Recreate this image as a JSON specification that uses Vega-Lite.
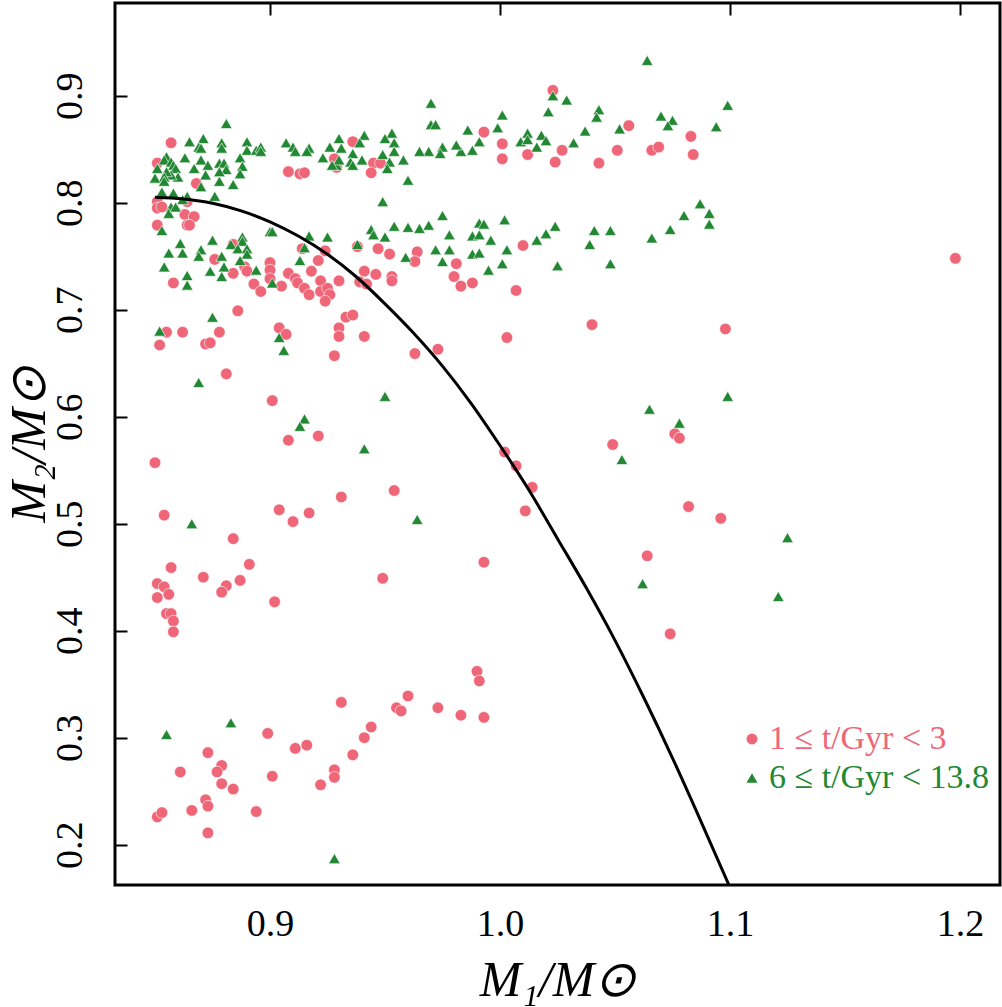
{
  "$schema": "https://vega.github.io/schema/vega-lite/v6.json",
  "autosize": {"type": "none"},
  "width": 885,
  "height": 882,
  "padding": {"left": 115, "top": 3, "right": 2, "bottom": 122},
  "background": "white",
  "config": {
    "view": {"stroke": "black", "strokeWidth": 3},
    "axis": {
      "domain": false,
      "ticks": false,
      "grid": true,
      "gridColor": "#000000",
      "gridWidth": 2,
      "gridOpacity": 1,
      "gridDash": [12, 3000],
      "labelFont": "Liberation Serif",
      "labelFontSize": 38,
      "labelColor": "black",
      "titleFont": "Liberation Serif",
      "titleFontSize": 50,
      "titleFontWeight": "normal",
      "titleFontStyle": "italic",
      "titleColor": "black"
    }
  },
  "datasets": {
    "pts": [
      {"m1":0.857,"m2":0.856,"grp":"young"},{"m1":0.851,"m2":0.837,"grp":"young"},{"m1":0.868,"m2":0.818,"grp":"young"},
      {"m1":0.851,"m2":0.801,"grp":"young"},{"m1":0.851,"m2":0.795,"grp":"young"},{"m1":0.853,"m2":0.796,"grp":"young"},
      {"m1":0.864,"m2":0.801,"grp":"young"},{"m1":0.863,"m2":0.789,"grp":"young"},{"m1":0.867,"m2":0.787,"grp":"young"},
      {"m1":0.864,"m2":0.779,"grp":"young"},{"m1":0.865,"m2":0.779,"grp":"young"},{"m1":0.851,"m2":0.779,"grp":"young"},
      {"m1":0.908,"m2":0.829,"grp":"young"},{"m1":0.913,"m2":0.827,"grp":"young"},{"m1":0.915,"m2":0.828,"grp":"young"},
      {"m1":0.928,"m2":0.841,"grp":"young"},{"m1":0.929,"m2":0.833,"grp":"young"},{"m1":0.936,"m2":0.857,"grp":"young"},
      {"m1":0.945,"m2":0.837,"grp":"young"},{"m1":0.948,"m2":0.837,"grp":"young"},{"m1":0.944,"m2":0.828,"grp":"young"},
      {"m1":0.993,"m2":0.866,"grp":"young"},{"m1":1.001,"m2":0.855,"grp":"young"},{"m1":1.001,"m2":0.841,"grp":"young"},
      {"m1":1.012,"m2":0.845,"grp":"young"},{"m1":1.023,"m2":0.905,"grp":"young"},{"m1":1.024,"m2":0.838,"grp":"young"},
      {"m1":1.027,"m2":0.849,"grp":"young"},{"m1":1.043,"m2":0.837,"grp":"young"},{"m1":1.051,"m2":0.849,"grp":"young"},
      {"m1":1.056,"m2":0.872,"grp":"young"},{"m1":1.066,"m2":0.849,"grp":"young"},{"m1":1.069,"m2":0.852,"grp":"young"},
      {"m1":1.083,"m2":0.862,"grp":"young"},{"m1":1.084,"m2":0.845,"grp":"young"},{"m1":1.198,"m2":0.748,"grp":"young"},
      {"m1":0.914,"m2":0.757,"grp":"young"},{"m1":0.924,"m2":0.755,"grp":"young"},{"m1":0.938,"m2":0.759,"grp":"young"},
      {"m1":0.947,"m2":0.757,"grp":"young"},{"m1":0.952,"m2":0.752,"grp":"young"},{"m1":0.964,"m2":0.754,"grp":"young"},
      {"m1":0.963,"m2":0.745,"grp":"young"},{"m1":0.981,"m2":0.743,"grp":"young"},{"m1":0.980,"m2":0.731,"grp":"young"},
      {"m1":0.983,"m2":0.722,"grp":"young"},{"m1":0.988,"m2":0.725,"grp":"young"},{"m1":1.007,"m2":0.718,"grp":"young"},
      {"m1":1.010,"m2":0.760,"grp":"young"},{"m1":0.876,"m2":0.747,"grp":"young"},{"m1":0.884,"m2":0.761,"grp":"young"},
      {"m1":0.889,"m2":0.740,"grp":"young"},{"m1":0.890,"m2":0.736,"grp":"young"},{"m1":0.884,"m2":0.734,"grp":"young"},
      {"m1":0.893,"m2":0.724,"grp":"young"},{"m1":0.896,"m2":0.717,"grp":"young"},{"m1":0.900,"m2":0.744,"grp":"young"},
      {"m1":0.900,"m2":0.737,"grp":"young"},{"m1":0.900,"m2":0.729,"grp":"young"},{"m1":0.905,"m2":0.722,"grp":"young"},
      {"m1":0.858,"m2":0.725,"grp":"young"},{"m1":0.908,"m2":0.734,"grp":"young"},{"m1":0.911,"m2":0.729,"grp":"young"},
      {"m1":0.912,"m2":0.725,"grp":"young"},{"m1":0.915,"m2":0.720,"grp":"young"},{"m1":0.917,"m2":0.714,"grp":"young"},
      {"m1":0.918,"m2":0.736,"grp":"young"},{"m1":0.922,"m2":0.727,"grp":"young"},{"m1":0.922,"m2":0.717,"grp":"young"},
      {"m1":0.925,"m2":0.720,"grp":"young"},{"m1":0.926,"m2":0.714,"grp":"young"},{"m1":0.924,"m2":0.708,"grp":"young"},
      {"m1":0.921,"m2":0.746,"grp":"young"},{"m1":0.930,"m2":0.727,"grp":"young"},{"m1":0.941,"m2":0.736,"grp":"young"},
      {"m1":0.946,"m2":0.733,"grp":"young"},{"m1":0.939,"m2":0.726,"grp":"young"},{"m1":0.942,"m2":0.724,"grp":"young"},
      {"m1":0.953,"m2":0.731,"grp":"young"},{"m1":0.953,"m2":0.727,"grp":"young"},{"m1":0.886,"m2":0.699,"grp":"young"},
      {"m1":0.933,"m2":0.693,"grp":"young"},{"m1":0.936,"m2":0.695,"grp":"young"},{"m1":0.930,"m2":0.683,"grp":"young"},
      {"m1":0.930,"m2":0.675,"grp":"young"},{"m1":0.941,"m2":0.675,"grp":"young"},{"m1":1.003,"m2":0.674,"grp":"young"},
      {"m1":0.963,"m2":0.659,"grp":"young"},{"m1":0.973,"m2":0.663,"grp":"young"},{"m1":1.040,"m2":0.686,"grp":"young"},
      {"m1":1.098,"m2":0.682,"grp":"young"},{"m1":0.855,"m2":0.679,"grp":"young"},{"m1":0.862,"m2":0.679,"grp":"young"},
      {"m1":0.878,"m2":0.679,"grp":"young"},{"m1":0.852,"m2":0.667,"grp":"young"},{"m1":0.872,"m2":0.668,"grp":"young"},
      {"m1":0.874,"m2":0.669,"grp":"young"},{"m1":0.904,"m2":0.683,"grp":"young"},{"m1":0.907,"m2":0.677,"grp":"young"},
      {"m1":0.928,"m2":0.657,"grp":"young"},{"m1":0.881,"m2":0.640,"grp":"young"},{"m1":0.901,"m2":0.615,"grp":"young"},
      {"m1":0.908,"m2":0.578,"grp":"young"},{"m1":0.921,"m2":0.582,"grp":"young"},{"m1":0.850,"m2":0.557,"grp":"young"},
      {"m1":0.954,"m2":0.531,"grp":"young"},{"m1":0.931,"m2":0.525,"grp":"young"},{"m1":0.904,"m2":0.513,"grp":"young"},
      {"m1":0.917,"m2":0.510,"grp":"young"},{"m1":0.910,"m2":0.502,"grp":"young"},{"m1":0.854,"m2":0.508,"grp":"young"},
      {"m1":0.884,"m2":0.486,"grp":"young"},{"m1":0.891,"m2":0.462,"grp":"young"},{"m1":0.857,"m2":0.459,"grp":"young"},
      {"m1":0.871,"m2":0.450,"grp":"young"},{"m1":0.881,"m2":0.442,"grp":"young"},{"m1":0.879,"m2":0.436,"grp":"young"},
      {"m1":0.887,"m2":0.447,"grp":"young"},{"m1":0.851,"m2":0.444,"grp":"young"},{"m1":0.854,"m2":0.441,"grp":"young"},
      {"m1":0.856,"m2":0.434,"grp":"young"},{"m1":0.851,"m2":0.431,"grp":"young"},{"m1":0.949,"m2":0.449,"grp":"young"},
      {"m1":0.902,"m2":0.427,"grp":"young"},{"m1":0.855,"m2":0.416,"grp":"young"},{"m1":0.857,"m2":0.416,"grp":"young"},
      {"m1":0.858,"m2":0.409,"grp":"young"},{"m1":0.858,"m2":0.399,"grp":"young"},{"m1":1.049,"m2":0.574,"grp":"young"},
      {"m1":1.076,"m2":0.584,"grp":"young"},{"m1":1.078,"m2":0.580,"grp":"young"},{"m1":1.002,"m2":0.567,"grp":"young"},
      {"m1":1.007,"m2":0.554,"grp":"young"},{"m1":1.014,"m2":0.534,"grp":"young"},{"m1":1.011,"m2":0.512,"grp":"young"},
      {"m1":1.082,"m2":0.516,"grp":"young"},{"m1":1.096,"m2":0.505,"grp":"young"},{"m1":0.993,"m2":0.464,"grp":"young"},
      {"m1":1.064,"m2":0.470,"grp":"young"},{"m1":1.074,"m2":0.397,"grp":"young"},{"m1":0.851,"m2":0.226,"grp":"young"},
      {"m1":0.853,"m2":0.230,"grp":"young"},{"m1":0.861,"m2":0.268,"grp":"young"},{"m1":0.866,"m2":0.232,"grp":"young"},
      {"m1":0.873,"m2":0.286,"grp":"young"},{"m1":0.872,"m2":0.242,"grp":"young"},{"m1":0.873,"m2":0.236,"grp":"young"},
      {"m1":0.873,"m2":0.211,"grp":"young"},{"m1":0.879,"m2":0.274,"grp":"young"},{"m1":0.877,"m2":0.268,"grp":"young"},
      {"m1":0.879,"m2":0.257,"grp":"young"},{"m1":0.884,"m2":0.252,"grp":"young"},{"m1":0.894,"m2":0.231,"grp":"young"},
      {"m1":0.899,"m2":0.304,"grp":"young"},{"m1":0.901,"m2":0.264,"grp":"young"},{"m1":0.911,"m2":0.290,"grp":"young"},
      {"m1":0.916,"m2":0.293,"grp":"young"},{"m1":0.922,"m2":0.256,"grp":"young"},{"m1":0.928,"m2":0.270,"grp":"young"},
      {"m1":0.928,"m2":0.263,"grp":"young"},{"m1":0.931,"m2":0.333,"grp":"young"},{"m1":0.936,"m2":0.284,"grp":"young"},
      {"m1":0.941,"m2":0.300,"grp":"young"},{"m1":0.944,"m2":0.310,"grp":"young"},{"m1":0.955,"m2":0.328,"grp":"young"},
      {"m1":0.957,"m2":0.325,"grp":"young"},{"m1":0.960,"m2":0.339,"grp":"young"},{"m1":0.973,"m2":0.328,"grp":"young"},
      {"m1":0.983,"m2":0.321,"grp":"young"},{"m1":0.990,"m2":0.362,"grp":"young"},{"m1":0.991,"m2":0.353,"grp":"young"},
      {"m1":0.993,"m2":0.319,"grp":"young"},
      {"m1":0.855,"m2":0.843,"grp":"old"},{"m1":0.854,"m2":0.840,"grp":"old"},{"m1":0.857,"m2":0.838,"grp":"old"},
      {"m1":0.858,"m2":0.835,"grp":"old"},{"m1":0.859,"m2":0.832,"grp":"old"},{"m1":0.860,"m2":0.824,"grp":"old"},
      {"m1":0.857,"m2":0.826,"grp":"old"},{"m1":0.855,"m2":0.829,"grp":"old"},{"m1":0.854,"m2":0.824,"grp":"old"},
      {"m1":0.851,"m2":0.832,"grp":"old"},{"m1":0.850,"m2":0.823,"grp":"old"},{"m1":0.854,"m2":0.820,"grp":"old"},
      {"m1":0.853,"m2":0.810,"grp":"old"},{"m1":0.858,"m2":0.809,"grp":"old"},{"m1":0.857,"m2":0.796,"grp":"old"},
      {"m1":0.856,"m2":0.790,"grp":"old"},{"m1":0.859,"m2":0.796,"grp":"old"},{"m1":0.863,"m2":0.842,"grp":"old"},
      {"m1":0.870,"m2":0.840,"grp":"old"},{"m1":0.867,"m2":0.832,"grp":"old"},{"m1":0.873,"m2":0.835,"grp":"old"},
      {"m1":0.872,"m2":0.826,"grp":"old"},{"m1":0.870,"m2":0.815,"grp":"old"},{"m1":0.878,"m2":0.837,"grp":"old"},
      {"m1":0.880,"m2":0.837,"grp":"old"},{"m1":0.881,"m2":0.831,"grp":"old"},{"m1":0.878,"m2":0.829,"grp":"old"},
      {"m1":0.878,"m2":0.820,"grp":"old"},{"m1":0.884,"m2":0.817,"grp":"old"},{"m1":0.887,"m2":0.842,"grp":"old"},
      {"m1":0.888,"m2":0.834,"grp":"old"},{"m1":0.887,"m2":0.827,"grp":"old"},{"m1":0.876,"m2":0.806,"grp":"old"},
      {"m1":0.864,"m2":0.806,"grp":"old"},{"m1":0.862,"m2":0.803,"grp":"old"},{"m1":0.881,"m2":0.874,"grp":"old"},
      {"m1":0.865,"m2":0.857,"grp":"old"},{"m1":0.871,"m2":0.860,"grp":"old"},{"m1":0.869,"m2":0.852,"grp":"old"},
      {"m1":0.870,"m2":0.851,"grp":"old"},{"m1":0.879,"m2":0.856,"grp":"old"},{"m1":0.879,"m2":0.851,"grp":"old"},
      {"m1":0.890,"m2":0.857,"grp":"old"},{"m1":0.890,"m2":0.849,"grp":"old"},{"m1":0.894,"m2":0.849,"grp":"old"},
      {"m1":0.896,"m2":0.852,"grp":"old"},{"m1":0.896,"m2":0.848,"grp":"old"},{"m1":0.907,"m2":0.856,"grp":"old"},
      {"m1":0.910,"m2":0.852,"grp":"old"},{"m1":0.911,"m2":0.848,"grp":"old"},{"m1":0.917,"m2":0.851,"grp":"old"},
      {"m1":0.916,"m2":0.848,"grp":"old"},{"m1":0.923,"m2":0.842,"grp":"old"},{"m1":0.926,"m2":0.852,"grp":"old"},
      {"m1":0.929,"m2":0.835,"grp":"old"},{"m1":0.970,"m2":0.893,"grp":"old"},{"m1":0.970,"m2":0.873,"grp":"old"},
      {"m1":0.972,"m2":0.873,"grp":"old"},{"m1":1.001,"m2":0.882,"grp":"old"},{"m1":0.986,"m2":0.868,"grp":"old"},
      {"m1":0.999,"m2":0.870,"grp":"old"},{"m1":1.012,"m2":0.865,"grp":"old"},{"m1":1.009,"m2":0.857,"grp":"old"},
      {"m1":0.991,"m2":0.857,"grp":"old"},{"m1":0.988,"m2":0.849,"grp":"old"},{"m1":0.983,"m2":0.848,"grp":"old"},
      {"m1":0.981,"m2":0.854,"grp":"old"},{"m1":0.975,"m2":0.852,"grp":"old"},{"m1":0.974,"m2":0.846,"grp":"old"},
      {"m1":0.969,"m2":0.848,"grp":"old"},{"m1":0.965,"m2":0.848,"grp":"old"},{"m1":0.958,"m2":0.840,"grp":"old"},
      {"m1":0.960,"m2":0.821,"grp":"old"},{"m1":0.949,"m2":0.801,"grp":"old"},{"m1":0.953,"m2":0.865,"grp":"old"},
      {"m1":0.950,"m2":0.860,"grp":"old"},{"m1":0.954,"m2":0.856,"grp":"old"},{"m1":0.954,"m2":0.848,"grp":"old"},
      {"m1":0.949,"m2":0.845,"grp":"old"},{"m1":0.952,"m2":0.838,"grp":"old"},{"m1":0.951,"m2":0.832,"grp":"old"},
      {"m1":0.941,"m2":0.863,"grp":"old"},{"m1":0.939,"m2":0.856,"grp":"old"},{"m1":0.930,"m2":0.860,"grp":"old"},
      {"m1":0.931,"m2":0.851,"grp":"old"},{"m1":0.936,"m2":0.846,"grp":"old"},{"m1":0.940,"m2":0.840,"grp":"old"},
      {"m1":0.935,"m2":0.838,"grp":"old"},{"m1":0.936,"m2":0.835,"grp":"old"},{"m1":0.930,"m2":0.840,"grp":"old"},
      {"m1":0.927,"m2":0.835,"grp":"old"},{"m1":1.064,"m2":0.933,"grp":"old"},{"m1":1.023,"m2":0.900,"grp":"old"},
      {"m1":1.029,"m2":0.896,"grp":"old"},{"m1":1.021,"m2":0.885,"grp":"old"},{"m1":1.012,"m2":0.859,"grp":"old"},
      {"m1":1.018,"m2":0.863,"grp":"old"},{"m1":1.020,"m2":0.858,"grp":"old"},{"m1":1.016,"m2":0.852,"grp":"old"},
      {"m1":1.032,"m2":0.856,"grp":"old"},{"m1":1.037,"m2":0.867,"grp":"old"},{"m1":1.043,"m2":0.887,"grp":"old"},
      {"m1":1.042,"m2":0.880,"grp":"old"},{"m1":1.052,"m2":0.869,"grp":"old"},{"m1":1.070,"m2":0.881,"grp":"old"},
      {"m1":1.075,"m2":0.877,"grp":"old"},{"m1":1.073,"m2":0.872,"grp":"old"},{"m1":1.094,"m2":0.871,"grp":"old"},
      {"m1":1.099,"m2":0.891,"grp":"old"},{"m1":0.975,"m2":0.788,"grp":"old"},{"m1":0.978,"m2":0.770,"grp":"old"},
      {"m1":0.978,"m2":0.756,"grp":"old"},{"m1":0.975,"m2":0.745,"grp":"old"},{"m1":0.988,"m2":0.752,"grp":"old"},
      {"m1":0.991,"m2":0.753,"grp":"old"},{"m1":0.988,"m2":0.769,"grp":"old"},{"m1":0.991,"m2":0.770,"grp":"old"},
      {"m1":0.991,"m2":0.781,"grp":"old"},{"m1":0.993,"m2":0.780,"grp":"old"},{"m1":0.996,"m2":0.765,"grp":"old"},
      {"m1":1.002,"m2":0.784,"grp":"old"},{"m1":1.003,"m2":0.756,"grp":"old"},{"m1":1.001,"m2":0.743,"grp":"old"},
      {"m1":0.995,"m2":0.737,"grp":"old"},{"m1":1.016,"m2":0.765,"grp":"old"},{"m1":1.020,"m2":0.771,"grp":"old"},
      {"m1":1.024,"m2":0.778,"grp":"old"},{"m1":1.025,"m2":0.741,"grp":"old"},{"m1":1.039,"m2":0.761,"grp":"old"},
      {"m1":1.041,"m2":0.774,"grp":"old"},{"m1":1.048,"m2":0.774,"grp":"old"},{"m1":1.048,"m2":0.743,"grp":"old"},
      {"m1":1.066,"m2":0.767,"grp":"old"},{"m1":1.074,"m2":0.775,"grp":"old"},{"m1":1.080,"m2":0.788,"grp":"old"},
      {"m1":1.087,"m2":0.799,"grp":"old"},{"m1":1.091,"m2":0.790,"grp":"old"},{"m1":1.091,"m2":0.780,"grp":"old"},
      {"m1":0.954,"m2":0.778,"grp":"old"},{"m1":0.960,"m2":0.777,"grp":"old"},{"m1":0.965,"m2":0.776,"grp":"old"},
      {"m1":0.969,"m2":0.779,"grp":"old"},{"m1":0.944,"m2":0.775,"grp":"old"},{"m1":0.945,"m2":0.770,"grp":"old"},
      {"m1":0.950,"m2":0.768,"grp":"old"},{"m1":0.938,"m2":0.761,"grp":"old"},{"m1":0.959,"m2":0.749,"grp":"old"},
      {"m1":0.972,"m2":0.756,"grp":"old"},{"m1":0.917,"m2":0.769,"grp":"old"},{"m1":0.925,"m2":0.768,"grp":"old"},
      {"m1":0.900,"m2":0.773,"grp":"old"},{"m1":0.901,"m2":0.773,"grp":"old"},{"m1":0.913,"m2":0.746,"grp":"old"},
      {"m1":0.853,"m2":0.774,"grp":"old"},{"m1":0.861,"m2":0.762,"grp":"old"},{"m1":0.862,"m2":0.753,"grp":"old"},
      {"m1":0.856,"m2":0.753,"grp":"old"},{"m1":0.854,"m2":0.740,"grp":"old"},{"m1":0.864,"m2":0.732,"grp":"old"},
      {"m1":0.864,"m2":0.723,"grp":"old"},{"m1":0.870,"m2":0.756,"grp":"old"},{"m1":0.869,"m2":0.750,"grp":"old"},
      {"m1":0.875,"m2":0.765,"grp":"old"},{"m1":0.883,"m2":0.761,"grp":"old"},{"m1":0.879,"m2":0.750,"grp":"old"},
      {"m1":0.880,"m2":0.740,"grp":"old"},{"m1":0.874,"m2":0.736,"grp":"old"},{"m1":0.879,"m2":0.731,"grp":"old"},
      {"m1":0.888,"m2":0.768,"grp":"old"},{"m1":0.888,"m2":0.764,"grp":"old"},{"m1":0.886,"m2":0.757,"grp":"old"},
      {"m1":0.890,"m2":0.757,"grp":"old"},{"m1":0.890,"m2":0.752,"grp":"old"},{"m1":0.887,"m2":0.746,"grp":"old"},
      {"m1":0.894,"m2":0.737,"grp":"old"},{"m1":0.901,"m2":0.725,"grp":"old"},{"m1":0.915,"m2":0.758,"grp":"old"},
      {"m1":0.875,"m2":0.693,"grp":"old"},{"m1":0.852,"m2":0.680,"grp":"old"},{"m1":0.904,"m2":0.674,"grp":"old"},
      {"m1":0.906,"m2":0.662,"grp":"old"},{"m1":0.869,"m2":0.632,"grp":"old"},{"m1":0.915,"m2":0.598,"grp":"old"},
      {"m1":0.913,"m2":0.591,"grp":"old"},{"m1":0.950,"m2":0.619,"grp":"old"},{"m1":0.941,"m2":0.570,"grp":"old"},
      {"m1":0.964,"m2":0.504,"grp":"old"},{"m1":0.866,"m2":0.500,"grp":"old"},{"m1":0.855,"m2":0.303,"grp":"old"},
      {"m1":0.883,"m2":0.314,"grp":"old"},{"m1":0.928,"m2":0.187,"grp":"old"},{"m1":1.065,"m2":0.607,"grp":"old"},
      {"m1":1.078,"m2":0.594,"grp":"old"},{"m1":1.099,"m2":0.619,"grp":"old"},{"m1":1.053,"m2":0.560,"grp":"old"},
      {"m1":1.125,"m2":0.487,"grp":"old"},{"m1":1.062,"m2":0.444,"grp":"old"},{"m1":1.121,"m2":0.432,"grp":"old"}
    ],
    "curve": [
      {"m1":0.850,"m2":0.8050},{"m1":0.8625,"m2":0.8034},{"m1":0.875,"m2":0.7995},{"m1":0.8875,"m2":0.7924},
      {"m1":0.900,"m2":0.7821},{"m1":0.9125,"m2":0.7686},{"m1":0.925,"m2":0.7518},{"m1":0.9375,"m2":0.7308},
      {"m1":0.950,"m2":0.7055},{"m1":0.9625,"m2":0.6780},{"m1":0.975,"m2":0.6473},{"m1":0.9875,"m2":0.6123},
      {"m1":1.000,"m2":0.5731},{"m1":1.0125,"m2":0.5317},{"m1":1.025,"m2":0.4860},{"m1":1.0375,"m2":0.4401},
      {"m1":1.050,"m2":0.3910},{"m1":1.0625,"m2":0.3376},{"m1":1.075,"m2":0.2810},{"m1":1.0875,"m2":0.2212},
      {"m1":1.100,"m2":0.1600}
    ]
  },
  "layer": [
    {
      "data": {"name": "pts"},
      "mark": {"type": "point", "filled": true, "opacity": 1, "stroke": "white", "strokeWidth": 0.6, "size": 135},
      "encoding": {
        "x": {
          "field": "m1",
          "type": "quantitative",
          "scale": {"domain": [0.83261, 1.21739], "nice": false, "zero": false},
          "axis": {
            "orient": "bottom",
            "values": [0.9, 1.0, 1.1, 1.2],
            "format": ".1f",
            "labelPadding": 20,
            "labelFlush": false,
            "title": "M₁/M⊙",
            "titlePadding": 12
          }
        },
        "y": {
          "field": "m2",
          "type": "quantitative",
          "scale": {"domain": [0.16234, 0.98664], "nice": false, "zero": false},
          "axis": {
            "orient": "left",
            "values": [0.2, 0.3, 0.4, 0.5, 0.6, 0.7, 0.8, 0.9],
            "format": ".1f",
            "labelAngle": -90,
            "labelAlign": "center",
            "labelBaseline": "bottom",
            "labelPadding": 26,
            "labelFlush": false,
            "title": "M₂/M⊙",
            "titlePadding": -3
          }
        },
        "color": {
          "field": "grp",
          "type": "nominal",
          "scale": {"domain": ["young", "old"], "range": ["#EE6677", "#228833"]},
          "legend": {
            "title": null,
            "orient": "none",
            "legendX": 620,
            "legendY": 719,
            "padding": 0,
            "labelFont": "Liberation Serif",
            "labelFontSize": 34,
            "labelLimit": 400,
            "labelColor": {"expr": "datum.value == 'young' ? '#EE6677' : '#228833'"},
            "labelExpr": "datum.value == 'young' ? '1 ≤ t/Gyr < 3' : '6 ≤ t/Gyr < 13.8'",
            "symbolSize": 120,
            "symbolStrokeWidth": 0,
            "rowPadding": 5,
            "labelOffset": 0
          }
        },
        "shape": {
          "field": "grp",
          "type": "nominal",
          "scale": {"domain": ["young", "old"], "range": ["circle", "triangle-up"]}
        }
      }
    },
    {
      "data": {"name": "curve"},
      "mark": {"type": "line", "color": "black", "strokeWidth": 3, "interpolate": "monotone", "clip": true},
      "encoding": {
        "x": {
          "field": "m1",
          "type": "quantitative",
          "axis": {"orient": "top", "values": [0.9, 1.0, 1.1, 1.2], "labels": false, "title": null}
        },
        "y": {
          "field": "m2",
          "type": "quantitative",
          "axis": {"orient": "right", "values": [0.2, 0.3, 0.4, 0.5, 0.6, 0.7, 0.8, 0.9], "labels": false, "title": null}
        }
      }
    },
    {
      "data": {"name": "curve"},
      "mark": {"type": "line", "opacity": 0},
      "encoding": {
        "x": {
          "field": "m1",
          "type": "quantitative",
          "axis": {"orient": "bottom", "values": [0.85, 0.875, 0.925, 0.95, 0.975, 1.025, 1.05, 1.075, 1.125, 1.15, 1.175], "gridDash": [6, 3000], "labels": false, "title": null}
        },
        "y": {
          "field": "m2",
          "type": "quantitative",
          "axis": {"orient": "left", "values": [0.175, 0.225, 0.25, 0.275, 0.325, 0.35, 0.375, 0.425, 0.45, 0.475, 0.525, 0.55, 0.575, 0.625, 0.65, 0.675, 0.725, 0.75, 0.775, 0.825, 0.85, 0.875, 0.925, 0.95, 0.975], "gridDash": [6, 3000], "labels": false, "title": null}
        }
      }
    },
    {
      "data": {"name": "curve"},
      "mark": {"type": "line", "opacity": 0},
      "encoding": {
        "x": {
          "field": "m1",
          "type": "quantitative",
          "axis": {"orient": "top", "values": [0.85, 0.875, 0.925, 0.95, 0.975, 1.025, 1.05, 1.075, 1.125, 1.15, 1.175], "gridDash": [6, 3000], "labels": false, "title": null}
        },
        "y": {
          "field": "m2",
          "type": "quantitative",
          "axis": {"orient": "right", "values": [0.175, 0.225, 0.25, 0.275, 0.325, 0.35, 0.375, 0.425, 0.45, 0.475, 0.525, 0.55, 0.575, 0.625, 0.65, 0.675, 0.725, 0.75, 0.775, 0.825, 0.85, 0.875, 0.925, 0.95, 0.975], "gridDash": [6, 3000], "labels": false, "title": null}
        }
      }
    }
  ],
  "resolve": {"axis": {"x": "independent", "y": "independent"}}
}
